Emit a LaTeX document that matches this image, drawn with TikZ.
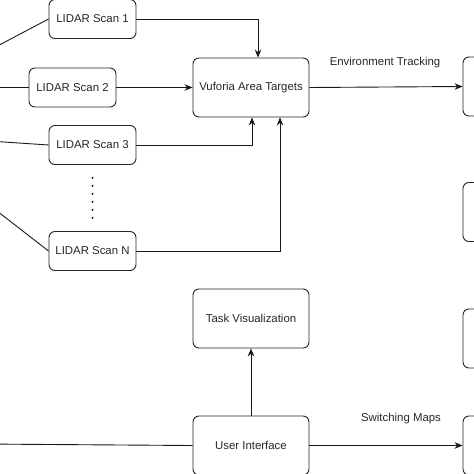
\documentclass[tikz,border=0pt]{standalone}
\usepackage{fontspec}
\setmainfont{Liberation Sans}
\usetikzlibrary{arrows.meta}

\tikzset{
  box/.style={draw=black!85, line width=0.9pt, rounded corners=6pt,
    fill=white, text=black!85, font=\fontsize{11.4}{13}\selectfont,
    minimum width=87pt, minimum height=39pt, inner sep=0pt},
  bigbox/.style={box, minimum width=116pt, minimum height=59pt},
  link/.style={draw=black!90, line width=0.9pt},
  arrow/.style={link, -{Stealth[length=8pt,width=6.5pt]}},
  dotline/.style={line width=2pt, line cap=round, dash pattern=on 0pt off 8pt},
  caption/.style={text=black!85, font=\fontsize{11.4}{13}\selectfont}
}

\begin{document}
\begin{tikzpicture}[x=1pt,y=-1pt]

\useasboundingbox (0,0) rectangle (474,474);

% Scans
\node[box] (scan1) at (92.5,19) {LIDAR Scan 1};
\node[box] (scan2) at (72.5,87.5) {LIDAR Scan 2};
\node[box] (scan3) at (92.5,145) {LIDAR Scan 3};
\node[box] (scanN) at (92.5,251) {LIDAR Scan N};

\draw[dotline, shorten <=13pt, shorten >=6pt] (scan3.south) -- (scanN.north);

% Inputs from the left
\coordinate (in1) at (-20,55.2);
\coordinate (in2) at (-20,87.5);
\coordinate (in3) at (-20,140.4);
\coordinate (inN) at (-20,197.8);
\coordinate (inUI) at (-20,444);

\draw[link] (in1) -- (scan1.west);
\draw[link] (in2) -- (scan2.west);
\draw[link] (in3) -- (scan3.west);
\draw[link] (inN) -- (scanN.west);

% Area targets
\node[bigbox] (vuforia) at (251,87.5) {Vuforia Area Targets};

\draw[arrow] (scan1.east) -| ([xshift=7pt]vuforia.north);
\draw[arrow] (scan2.east) -- (vuforia.west);
\draw[arrow] (scan3.east) -| ([xshift=1pt]vuforia.south);
\draw[arrow] (scanN.east) -| ([xshift=29pt]vuforia.south);

% Right column
\node[bigbox] (right1) at (521,86.5) {};
\node[bigbox] (right2) at (521,212) {};
\node[bigbox] (right3) at (521,338.5) {};
\node[bigbox] (right4) at (521,445.5) {};

\draw[arrow] (vuforia.east) -- (right1.west);
\node[caption] (envlabel) at (385,63) {Environment Tracking};

% Interface
\node[bigbox] (task) at (251,318.5) {Task Visualization};
\node[bigbox] (ui) at (251,445.5) {User Interface};

\draw[link] (inUI) -- (ui.west);
\draw[arrow] (ui.north) -- (task.south);
\draw[arrow] (ui.east) -- (right4.west);
\node[caption] (switchlabel) at (401,419) {Switching Maps};

\end{tikzpicture}
\end{document}
